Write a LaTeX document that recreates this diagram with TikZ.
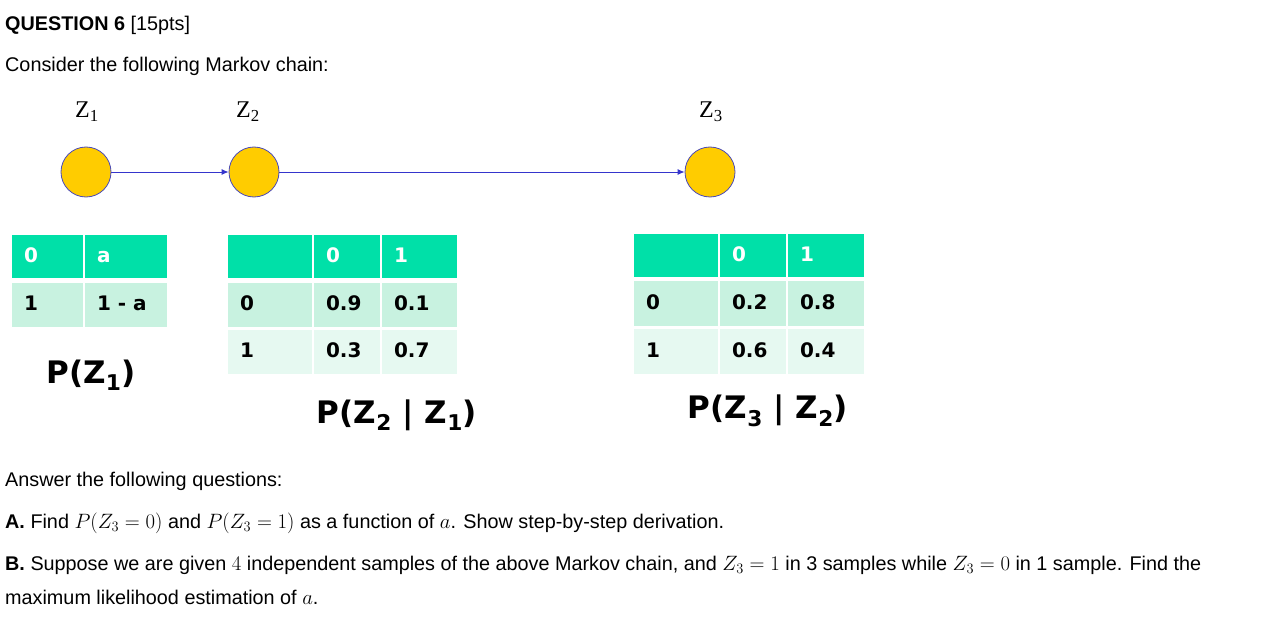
\documentclass[tikz,border=0pt]{standalone}
\usepackage{fontspec}
\setmainfont{Liberation Sans}
\newfontfamily\tabfont{DejaVu Sans}
\newfontfamily\zfont{Liberation Serif}
\usetikzlibrary{arrows.meta}
\definecolor{hdr}{HTML}{00E0A8}
\definecolor{rowa}{HTML}{C8F2E0}
\definecolor{rowb}{HTML}{E6F9F1}
\definecolor{gold}{HTML}{FFCC00}
\definecolor{edge}{HTML}{4A4AB8}
\definecolor{arr}{HTML}{3535CC}
\tikzset{
  state/.style={circle,fill=gold,draw=edge,line width=0.8pt,minimum size=50pt,inner sep=0},
  link/.style={draw=arr,line width=0.9pt,-{Latex[length=7pt,width=6pt]}},
  cell/.style={anchor=north west,inner sep=0,outer sep=0,draw=none,text height=14pt,text depth=3pt,font=\tabfont\bfseries\fontsize{20}{23}\selectfont},
  tcap/.style={font=\tabfont\bfseries\fontsize{31}{34}\selectfont,inner sep=0},
  zl/.style={font=\zfont\fontsize{24}{26}\selectfont,inner sep=0},
  txt/.style={anchor=west,inner sep=0,font=\fontsize{19.8}{24}\selectfont},
}
\newcommand{\tcell}[8]{%
  \fill[#6] (#2,#3) rectangle ++(#4,#5);
  \node[cell,text=#8,anchor=west] (#1) at (#2+12,#3+#5/2) {#7};}
\begin{document}
\begin{tikzpicture}[x=1pt,y=-1pt]
\useasboundingbox (0,0) rectangle (1270,623);
\node[txt] (q) at (5,25) {\textbf{QUESTION 6} [15pts]};
\node[txt] (c) at (5,66) {Consider the following Markov chain:};
\node[zl] (l1) at (87,112) {Z\textsubscript{1}};
\node[zl] (l2) at (248,112) {Z\textsubscript{2}};
\node[zl] (l3) at (711,112) {Z\textsubscript{3}};
\node[state] (z1) at (86,172) {};
\node[state] (z2) at (254,172) {};
\node[state] (z3) at (710,172) {};
\draw[link] (z1) -- (z2);
\draw[link] (z2) -- (z3);
\tcell{a1}{12}{235}{71}{43}{hdr}{0}{white}
\tcell{a2}{85}{235}{82}{43}{hdr}{a}{white}
\tcell{a3}{12}{283}{71}{44}{rowa}{1}{black}
\tcell{a4}{85}{283}{82}{44}{rowa}{1 - a}{black}
\tcell{b1}{228}{235}{84}{43}{hdr}{}{white}
\tcell{b2}{314}{235}{66}{43}{hdr}{0}{white}
\tcell{b3}{382}{235}{75}{43}{hdr}{1}{white}
\tcell{b4}{228}{283}{84}{44}{rowa}{0}{black}
\tcell{b5}{314}{283}{66}{44}{rowa}{0.9}{black}
\tcell{b6}{382}{283}{75}{44}{rowa}{0.1}{black}
\tcell{b7}{228}{330}{84}{44}{rowb}{1}{black}
\tcell{b8}{314}{330}{66}{44}{rowb}{0.3}{black}
\tcell{b9}{382}{330}{75}{44}{rowb}{0.7}{black}
\tcell{c1}{634}{234}{84}{43}{hdr}{}{white}
\tcell{c2}{720}{234}{66}{43}{hdr}{0}{white}
\tcell{c3}{788}{234}{76}{43}{hdr}{1}{white}
\tcell{c4}{634}{281}{84}{45}{rowa}{0}{black}
\tcell{c5}{720}{281}{66}{45}{rowa}{0.2}{black}
\tcell{c6}{788}{281}{76}{45}{rowa}{0.8}{black}
\tcell{c7}{634}{329}{84}{45}{rowb}{1}{black}
\tcell{c8}{720}{329}{66}{45}{rowb}{0.6}{black}
\tcell{c9}{788}{329}{76}{45}{rowb}{0.4}{black}
\node[tcap] (p1) at (91,375) {P(Z\textsubscript{1})};
\node[tcap] (p2) at (397,415) {P(Z\textsubscript{2} | Z\textsubscript{1})};
\node[tcap] (p3) at (768,411) {P(Z\textsubscript{3} | Z\textsubscript{2})};
\node[txt] (ans) at (5,481) {Answer the following questions:};
\node[txt] (qa) at (5,523) {\textbf{A.} Find $P(Z_3=0)$ and $P(Z_3=1)$ as a function of $a$. Show step-by-step derivation.};
\node[txt] (qb) at (5,565) {\textbf{B.} Suppose we are given $4$ independent samples of the above Markov chain, and $Z_3=1$ in 3 samples while $Z_3=0$ in 1 sample. Find the};
\node[txt] (qc) at (5,597) {maximum likelihood estimation of $a$.};
\end{tikzpicture}
\end{document}
